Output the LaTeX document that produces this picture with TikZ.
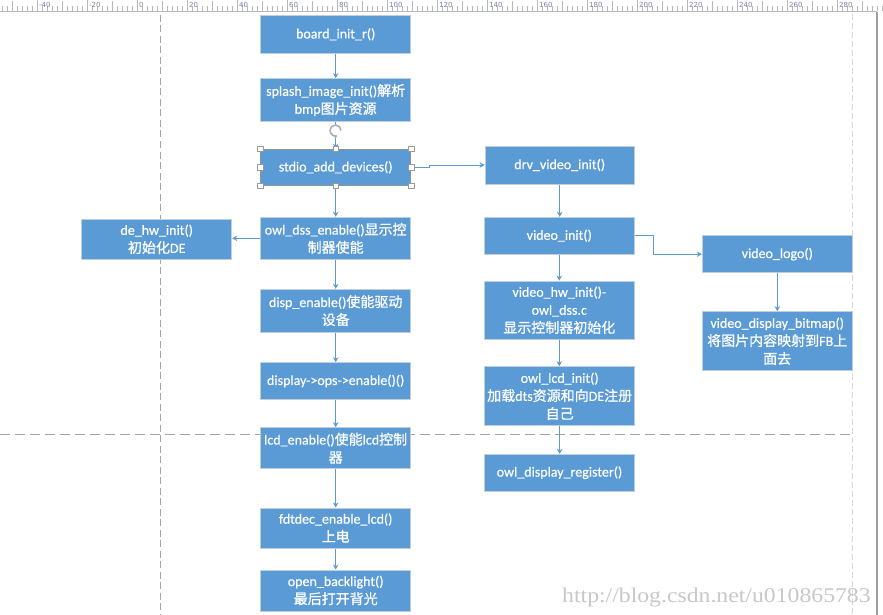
\documentclass[tikz,border=0pt]{standalone}
\usepackage{fontspec}
\setmainfont{Carlito}[FakeBold=0.3]
\newfontfamily\cjk{Noto Sans CJK SC}[FakeBold=0.8]
\newfontfamily\wmfont{Liberation Serif}
\newfontfamily\rulerfont{DejaVu Sans}
\usetikzlibrary{arrows.meta}
\definecolor{boxblue}{RGB}{91,155,213}
\definecolor{boxedge}{RGB}{195,205,215}
\definecolor{linkblue}{RGB}{91,155,213}
\definecolor{guide}{RGB}{165,165,165}
\definecolor{guidelight}{RGB}{215,215,215}
\definecolor{tickgray}{RGB}{185,185,185}
\definecolor{rulertext}{RGB}{120,130,165}
\definecolor{wm}{RGB}{200,200,200}
\newcommand\zhs[1]{{\cjk #1}}
\begin{document}
\begin{tikzpicture}[x=1pt,y=-1pt,
  box/.style={rectangle, fill=boxblue, draw=boxedge, line width=1pt, text=white,
    align=center, inner sep=0pt, minimum width=150pt,
    font=\fontsize{14}{18}\selectfont},
  link/.style={draw=linkblue, line width=1pt, -{Stealth[length=5pt,width=5.5pt]}},
  handle/.style={fill=white, draw=gray!80, line width=0.6pt, minimum size=5.5pt, inner sep=0pt, rectangle},
  rtick/.style={draw=tickgray, line width=0.6pt}
]
\useasboundingbox (0,0) rectangle (883,615);
\fill[white] (0,0) rectangle (883,615);
% ruler
\foreach \u in {-54,-52,...,298} {
  \pgfmathsetmacro\xx{137.5+2.5*\u}
  \draw[rtick] (\xx,6) -- (\xx,11.5);
}
\foreach \u in {-50,-30,...,290} {
  \pgfmathsetmacro\xx{137.5+2.5*\u}
  \draw[rtick] (\xx,1) -- (\xx,11.5);
}
\foreach \u in {-40,-20,...,280} {
  \pgfmathsetmacro\xx{137.5+2.5*\u}
  \draw[rtick] (\xx,0) -- (\xx,11.5);
  \node[anchor=base west, inner sep=0pt, text=rulertext, font=\rulerfont\fontsize{7}{7}\selectfont] at (\xx+1.5,7.5) {\u};
}
\draw[draw=tickgray, line width=0.8pt] (0,11.8) -- (877,11.8);
% guides
\draw[guide, line width=1.2pt, dash pattern=on 7pt off 3.5pt] (160.5,15) -- (160.5,615);
\draw[guide, line width=1pt, dash pattern=on 10pt off 5pt] (0,434.3) -- (852,434.3);
\draw[guidelight, line width=0.8pt, dash pattern=on 6pt off 3pt] (852.5,14) -- (852.5,615);
\draw[gray!75, line width=1.4pt] (877,12) -- (877,615);
% boxes left column
\node[box, minimum height=38pt] (board) at (335.7,34.3) {board\_init\_r()};
\node[box, minimum height=42.6pt] (splash) at (335.7,100) {splash\_image\_init()\zhs{解析}\\bmp\zhs{图片资源}};
\node[box, minimum height=36pt, draw=gray!85] (stdio) at (335.7,167.3) {stdio\_add\_devices()};
\node[box, minimum height=42pt] (dss) at (335.7,238.3) {owl\_dss\_enable()\zhs{显示控}\\\zhs{制器使能}};
\node[box, minimum height=40pt] (dehw) at (156.7,239.3) {de\_hw\_init()\\\zhs{初始化}DE};
\node[box, minimum height=42.7pt] (disp) at (335.7,310.7) {disp\_enable()\zhs{使能驱动}\\\zhs{设备}};
\node[box, minimum height=36.7pt] (ops) at (335.7,381) {display->ops->enable()()};
\node[box, minimum height=41pt] (lcden) at (335.7,448.2) {lcd\_enable()\zhs{使能}lcd\zhs{控制}\\\zhs{器}};
\node[box, minimum height=40pt] (fdt) at (335.7,528) {fdtdec\_enable\_lcd()\\\zhs{上电}};
\node[box, minimum height=41pt] (back) at (335.7,590.5) {open\_backlight()\\\zhs{最后打开背光}};
% right column
\node[box, minimum height=38pt, minimum width=149.3pt] (drv) at (559.7,165) {drv\_video\_init()};
\node[box, minimum height=36.7pt] (vinit) at (559.3,235.7) {video\_init()};
\node[box, minimum height=58.3pt] (vhw) at (559.3,310.2) {video\_hw\_init()-\\owl\_dss.c\\\zhs{显示控制器初始化}};
\node[box, minimum height=59.3pt] (lcdinit) at (559.7,396.3) {owl\_lcd\_init()\\\zhs{加载}dts\zhs{资源和向}DE\zhs{注册}\\\zhs{自己}};
\node[box, minimum height=36.7pt] (reg) at (559.5,472.7) {owl\_display\_register()};
\node[box, minimum height=37pt] (vlogo) at (777.3,254.2) {video\_logo()};
\node[box, minimum height=59.3pt] (bitmap) at (777.2,341.3) {video\_display\_bitmap()\\\zhs{将图片内容映射到}FB\zhs{上}\\\zhs{面去}};
% connectors
\draw[link] (board.south) -- (splash.north);
\draw[link] (splash.south) -- (stdio.north);
\draw[link] (stdio.south) -- (dss.north);
\draw[link] (dss.west) -- (dss.west -| dehw.east);
\draw[link] (dss.south) -- (disp.north);
\draw[link] (disp.south) -- (ops.north);
\draw[link] (ops.south) -- (lcden.north);
\draw[link] (lcden.south) -- (fdt.north);
\draw[link] (fdt.south) -- (back.north);
\draw[link] (stdio.east) -- ++(18,0) |- (drv.west);
\draw[link] (drv.south) -- (drv.south |- vinit.north);
\draw[link] (vinit.south) -- (vinit.south |- vhw.north);
\draw[link] (vhw.south) -- (vhw.south |- lcdinit.north);
\draw[link] (lcdinit.south) -- (lcdinit.south |- reg.north);
\draw[link] (vinit.east) -- ++(19,0) |- (vlogo.west);
\draw[link] (vlogo.south) -- (vlogo.south |- bitmap.north);
% selection handles on stdio
\foreach \a in {north west,north,north east,west,east,south west,south,south east}
  \node[handle] at (stdio.\a) {};
% rotation handle icon
\fill[white] (335.5,130.5) circle (6pt);
\draw[gray!65, line width=1.5pt, -{Stealth[length=3.5pt,width=4.5pt]}] (335.5+5.5,130.5) arc[start angle=0, end angle=290, radius=5.5pt];
% watermark
\node[anchor=base west, inner sep=0pt, text=wm, font=\wmfont\fontsize{21}{21}\selectfont] (wmark) at (562,602) {\scalebox{1.13}[1]{http://blog.csdn.net/u010865783}};
\end{tikzpicture}
\end{document}
